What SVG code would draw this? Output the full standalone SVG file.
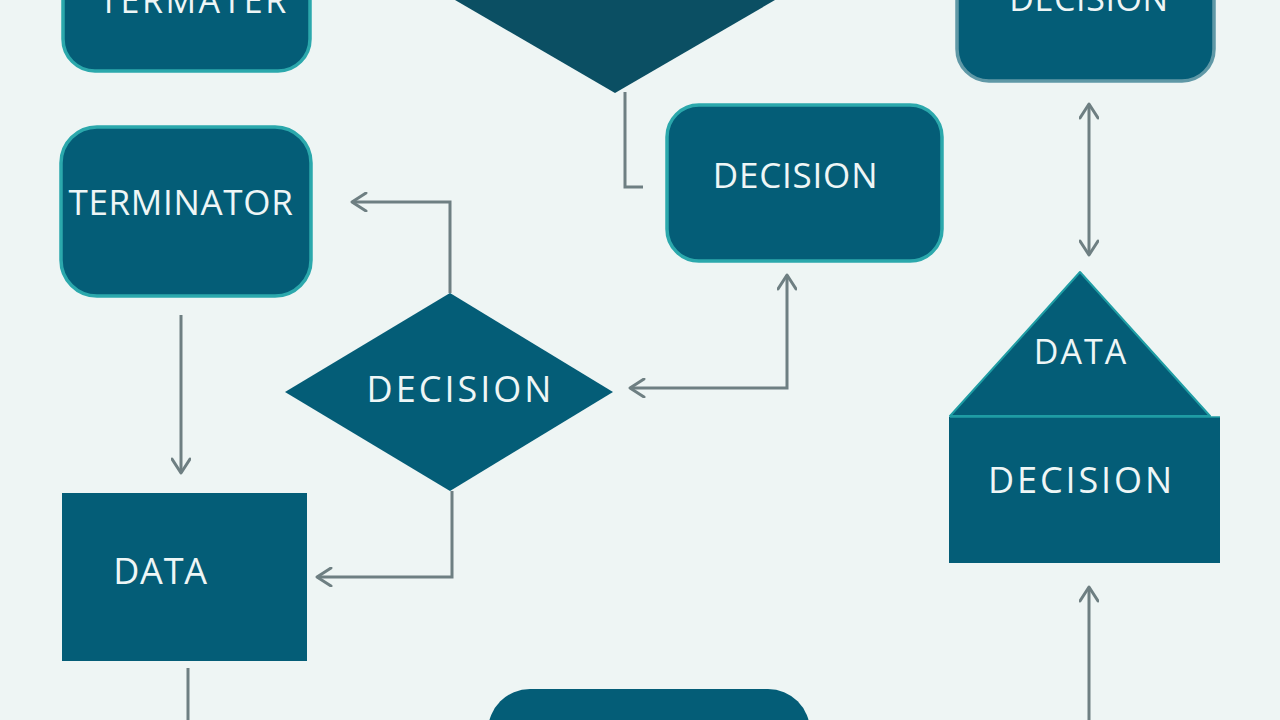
<svg xmlns="http://www.w3.org/2000/svg" width="1280" height="720" viewBox="0 0 1280 720">
<defs>
<marker id="ah" viewBox="0 0 20 20" refX="18" refY="10" markerWidth="20" markerHeight="20" markerUnits="userSpaceOnUse" orient="auto-start-reverse">
<path d="M4 1 L18 10 L4 19" fill="none" stroke="#6e7f82" stroke-width="3" stroke-linecap="round" stroke-linejoin="round"/>
</marker>
<style>
.node{fill:#045d77;}
.term{fill:#045d77;stroke:#2ba8ac;stroke-width:3.5;}
.term2{fill:#045d77;stroke:#5f98a6;stroke-width:3.5;}
.dark{fill:#0b4f63;}
.lbl{font-family:"Open Sans","Noto Sans",sans-serif;fill:#eef6f6;text-anchor:middle;}
.c{fill:none;stroke:#6e7f82;stroke-width:3;}
</style>
</defs>
<rect width="1280" height="720" fill="#eef5f4"/>
<g id="connectors">
<path class="c" d="M625 92 V187 H643"/>
<path class="c" d="M1089 104 V255" marker-start="url(#ah)" marker-end="url(#ah)"/>
<path class="c" d="M181 315 V473" marker-end="url(#ah)"/>
<path class="c" d="M450 293 V202 H352" marker-end="url(#ah)"/>
<path class="c" d="M787 275 V388 H630" marker-start="url(#ah)" marker-end="url(#ah)"/>
<path class="c" d="M452 491 V577 H317" marker-end="url(#ah)"/>
<path class="c" d="M188 668 V720"/>
<path class="c" d="M1089 720 V587" marker-end="url(#ah)"/>
</g>
<g id="n-termater">
<rect class="term" x="63" y="-60" width="247" height="131" rx="32"/>
<text class="lbl" x="194" y="13" font-size="34" letter-spacing="2.5">TERMATER</text>
</g>
<g id="n-topdiamond">
<polygon class="dark" points="615,93 455,0 455,-10 775,-10 775,0"/>
</g>
<g id="n-topright">
<rect class="term2" x="957" y="-60" width="257" height="141" rx="32"/>
<text class="lbl" x="1089" y="11" font-size="34" letter-spacing="0.6">DECISION</text>
</g>
<g id="n-decision-rect">
<rect class="term" x="667" y="105" width="275" height="156" rx="32"/>
<text class="lbl" x="795.5" y="188" font-size="35" letter-spacing="0.8">DECISION</text>
</g>
<g id="n-terminator">
<rect class="term" x="61" y="127" width="250" height="169" rx="36"/>
<text class="lbl" x="181" y="215" font-size="35" letter-spacing="0.7">TERMINATOR</text>
</g>
<g id="n-diamond">
<polygon class="node" points="450,293 613,392 450,491 285,392"/>
<text class="lbl" x="460.5" y="402" font-size="36" letter-spacing="3">DECISION</text>
</g>
<g id="n-data">
<rect class="node" x="62" y="493" width="245" height="168"/>
<text class="lbl" x="160.5" y="584" font-size="36" letter-spacing="0.8">DATA</text>
</g>
<g id="n-bottom">
<rect class="node" x="488" y="689" width="322" height="100" rx="42"/>
</g>
<g id="n-house">
<polygon class="node" points="1080,272 1210,416 950,416" stroke="#1f9da4" stroke-width="2" stroke-linejoin="round"/>
<rect class="node" x="949" y="417" width="271" height="146"/>
<line x1="950" y1="417" x2="1220" y2="417" stroke="#1f9da4" stroke-width="1.5"/>
<text class="lbl" x="1081" y="364" font-size="34" letter-spacing="2">DATA</text>
<text class="lbl" x="1081.5" y="493" font-size="36" letter-spacing="2.9">DECISION</text>
</g>
</svg>
